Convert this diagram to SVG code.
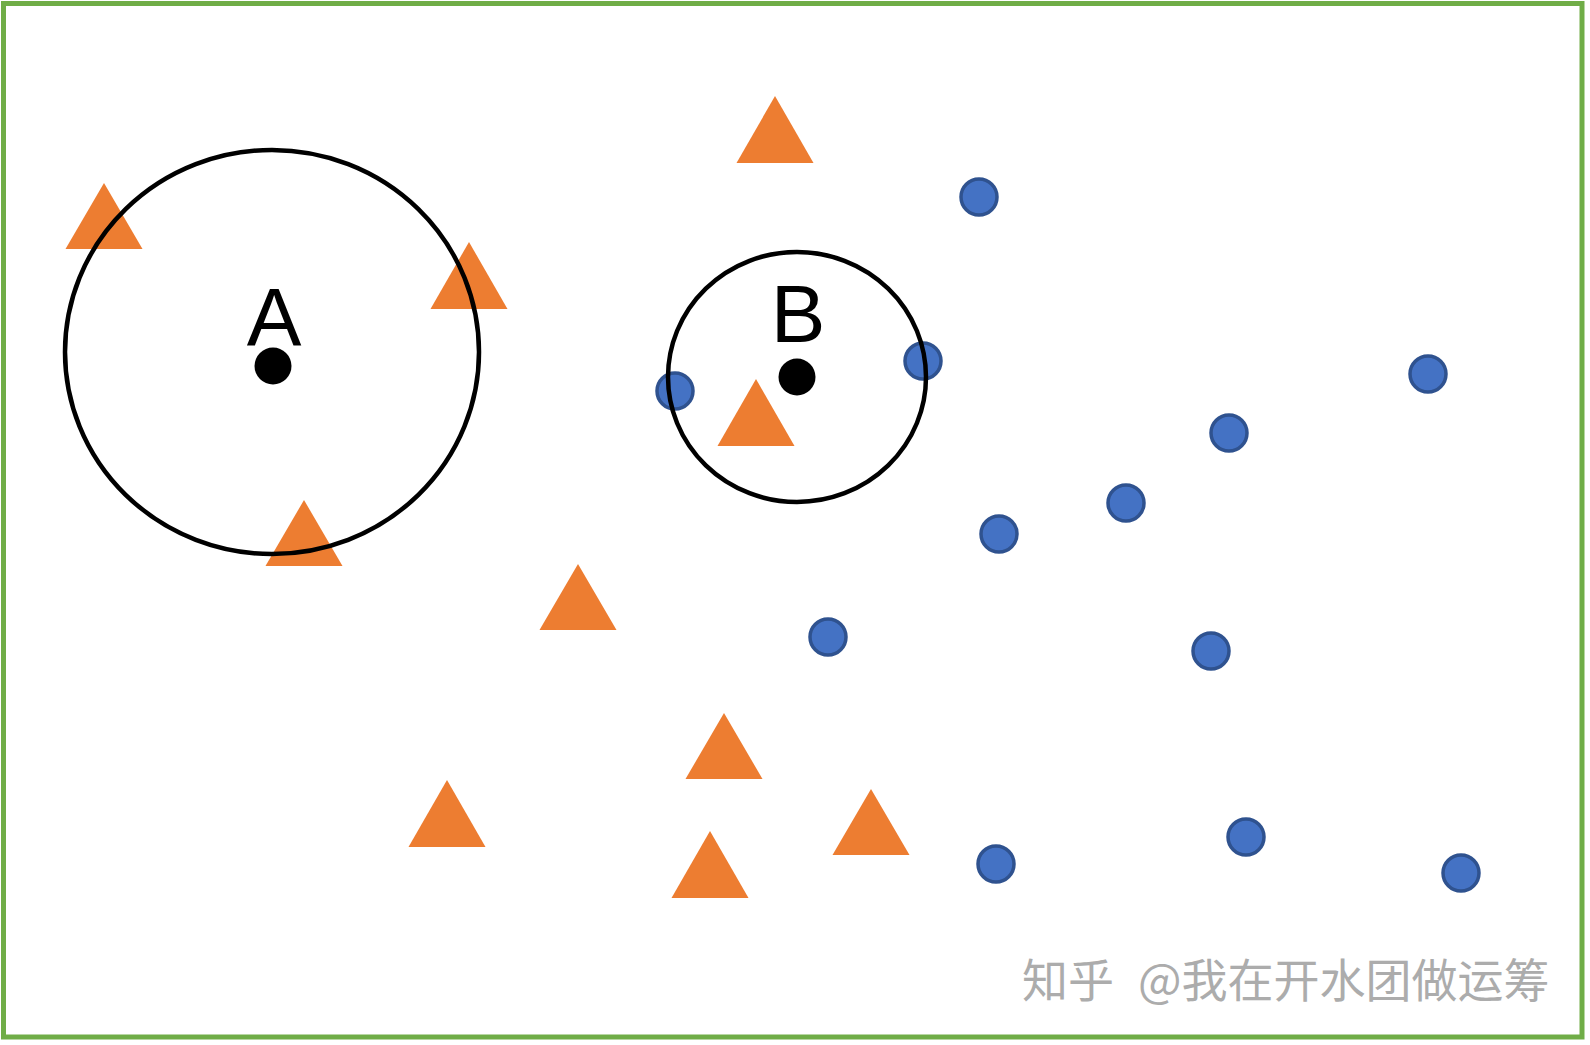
<svg xmlns="http://www.w3.org/2000/svg" width="1590" height="1045" viewBox="0 0 1590 1045">
<style>
.tri{fill:#ED7D31}
.dot{fill:#4472C4;stroke:#2F528F;stroke-width:3.5}
.ring{fill:none;stroke:#000;stroke-width:4.5}
.lbl{font-family:"Liberation Sans",Arial,sans-serif;font-size:82px;fill:#000;text-anchor:middle}
.wm{font-family:"Noto Sans CJK SC","Liberation Sans",sans-serif;font-size:46px;fill:#acacac}
</style>
<rect x="0" y="0" width="1590" height="1045" fill="#fff"/>
<rect x="3.5" y="3.5" width="1578.5" height="1033.5" fill="none" stroke="#70AD47" stroke-width="5"/>
<g id="triangles">
<polygon class="tri" points="104,183 65.5,249 142.5,249"/>
<polygon class="tri" points="469,242 430.5,309 507.5,309"/>
<polygon class="tri" points="304,500 265.5,566 342.5,566"/>
<polygon class="tri" points="775,96 736.5,163 813.5,163"/>
<polygon class="tri" points="756,379 717.5,446 794.5,446"/>
<polygon class="tri" points="578,564 539.5,630 616.5,630"/>
<polygon class="tri" points="724,713 685.5,779 762.5,779"/>
<polygon class="tri" points="447,780 408.5,847 485.5,847"/>
<polygon class="tri" points="871,789 832.5,855 909.5,855"/>
<polygon class="tri" points="710,831 671.5,898 748.5,898"/>
</g>
<g id="dots">
<circle class="dot" cx="979" cy="197" r="18"/>
<circle class="dot" cx="675" cy="391" r="18"/>
<circle class="dot" cx="923" cy="361" r="18"/>
<circle class="dot" cx="1428" cy="374" r="18"/>
<circle class="dot" cx="1229" cy="433" r="18"/>
<circle class="dot" cx="1126" cy="503" r="18"/>
<circle class="dot" cx="999" cy="534" r="18"/>
<circle class="dot" cx="828" cy="637" r="18"/>
<circle class="dot" cx="1211" cy="651" r="18"/>
<circle class="dot" cx="1246" cy="837" r="18"/>
<circle class="dot" cx="996" cy="864" r="18"/>
<circle class="dot" cx="1461" cy="873" r="18"/>
</g>
<g id="nodeA">
<ellipse class="ring" cx="272" cy="352" rx="207" ry="202"/>
<circle cx="273" cy="366" r="18.5" fill="#000"/>
<text class="lbl" x="274" y="345">A</text>
</g>
<g id="nodeB">
<ellipse class="ring" cx="797" cy="377" rx="129" ry="125"/>
<circle cx="797" cy="377" r="18.5" fill="#000"/>
<text class="lbl" x="798" y="342">B</text>
</g>
<g id="connectors"/>
<text class="wm" y="997"><tspan x="1022">知乎</tspan><tspan x="1138">@我在开水团做运筹</tspan></text>
</svg>
